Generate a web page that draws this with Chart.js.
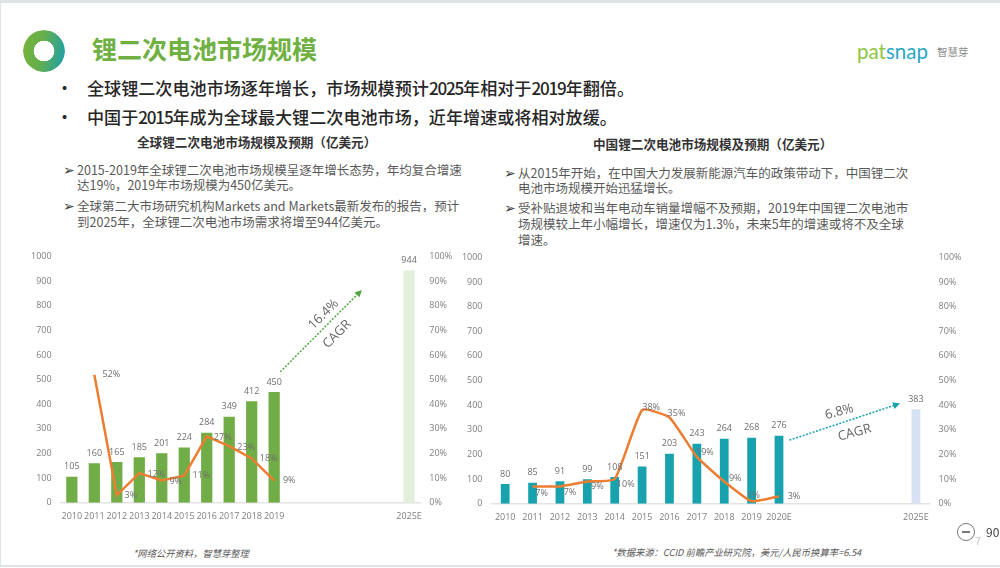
<!DOCTYPE html>
<html lang="zh">
<head>
<meta charset="utf-8">
<title>锂二次电池市场规模</title>
<script src="https://cdn.jsdelivr.net/npm/chart.js@4"></script>
<style>
  html, body { margin: 0; padding: 0; background: #fff; }
  body { width: 1000px; height: 568px; overflow: hidden; position: relative;
         font-family: "Noto Sans CJK SC", "Noto Sans", sans-serif; color: #595959; }
  canvas { position: absolute; }
  .band { position: absolute; background: #dfe3e7; }
  .t { position: absolute; white-space: nowrap; transform: translateY(-50%); line-height: 1; }
  .ring { position: absolute; left: 23px; top: 30px; width: 42px; height: 42px; border-radius: 50%;
          background: linear-gradient(100deg, #78b53a, #64ae4c 45%, #1a9fb0);
          -webkit-mask: radial-gradient(circle, transparent 10px, #000 10.6px); mask: radial-gradient(circle, transparent 10px, #000 10.6px); }
  .title { left: 92px; top: 48px; font-size: 25px; font-weight: 700; color: #71b144; }
  .lead { font-size: 17.1px; font-weight: 500; color: #262626; }
  .lead span { letter-spacing: -1.2px; }
  .sub { font-size: 12.6px; font-weight: 700; color: #333; }
  .body { font-size: 12.5px; color: #595959; }
  .mark { font: 14px "DejaVu Sans", sans-serif; color: #404040; }
  .note { font-size: 9.3px; font-style: italic; color: #595959; }
  .logo { left: 857px; top: 51px; font: 400 20.5px Lato, sans-serif; }
  .logo b { font-weight: 400; color: #8cc63f; }
  .logo i { font-style: normal; color: #2aa7c4; }
  .pageCircle { position: absolute; left: 957px; top: 523px; width: 16px; height: 16px;
                border: 1.5px solid #777; border-radius: 50%; }
  .pageCircle::after { content: ""; position: absolute; left: 4px; top: 7px; width: 8px; height: 1.5px; background: #777; }
</style>
</head>
<body>
<div class="band" style="left:0;top:0;width:1000px;height:3px"></div>
<div class="band" style="left:0;top:0;width:1px;height:566px"></div>
<div class="band" style="left:0;top:565px;width:1000px;height:1.5px"></div>

<div class="ring"></div>
<div class="t title">锂二次电池市场规模</div>
<div class="t logo"><b>pat</b><i>snap</i></div>
<div class="t" style="left:937px;top:52px;font-size:10.5px;color:#8c8c8c">智慧芽</div>

<div class="t lead" style="left:56px;top:88px">•</div>
<div class="t lead" style="left:87px;top:88px">全球锂二次电池市场逐年增长，市场规模预计<span>2025</span>年相对于<span>2019</span>年翻倍。</div>
<div class="t lead" style="left:56px;top:117px">•</div>
<div class="t lead" style="left:87px;top:117px">中国于<span>2015</span>年成为全球最大锂二次电池市场，近年增速或将相对放缓。</div>

<div class="t sub" style="left:137px;top:142px">全球锂二次电池市场规模及预期（亿美元）</div>
<div class="t sub" style="left:593px;top:144px">中国锂二次电池市场规模及预期（亿美元）</div>

<div class="t mark" style="left:63px;top:170px">➢</div>
<div class="t body" style="left:77px;top:170px">2015-2019年全球锂二次电池市场规模呈逐年增长态势，年均复合增速</div>
<div class="t body" style="left:77px;top:185px">达19%，2019年市场规模为450亿美元。</div>
<div class="t mark" style="left:63px;top:206px">➢</div>
<div class="t body" style="left:77px;top:206px">全球第二大市场研究机构Markets and Markets最新发布的报告，预计</div>
<div class="t body" style="left:77px;top:222px">到2025年，全球锂二次电池市场需求将增至944亿美元。</div>

<div class="t mark" style="left:504px;top:173px">➢</div>
<div class="t body" style="left:518px;top:173px">从2015年开始，在中国大力发展新能源汽车的政策带动下，中国锂二次</div>
<div class="t body" style="left:518px;top:188px">电池市场规模开始迅猛增长。</div>
<div class="t mark" style="left:504px;top:208px">➢</div>
<div class="t body" style="left:518px;top:208px">受补贴退坡和当年电动车销量增幅不及预期，2019年中国锂二次电池市</div>
<div class="t body" style="left:518px;top:224px">场规模较上年小幅增长，增速仅为1.3%，未来5年的增速或将不及全球</div>
<div class="t body" style="left:518px;top:240px">增速。</div>

<canvas id="globalChart" width="460" height="300" style="left:0;top:240px"></canvas>
<canvas id="chinaChart" width="540" height="300" style="left:460px;top:240px"></canvas>

<div class="t note" style="left:133px;top:554px">*网络公开资料，智慧芽整理</div>
<div class="t note" style="left:612px;top:553px">*数据来源：CCID 前瞻产业研究院，美元/人民币换算率=6.54</div>

<div class="pageCircle"></div>
<div class="t" style="left:975px;top:540px;font-size:11px;color:#c8c8c8">7</div>
<div class="t" style="left:986px;top:532px;font-size:12px;color:#444">90</div>

<script>
const globalYears = ['2010', '2011', '2012', '2013', '2014', '2015', '2016', '2017', '2018', '2019', '', '', '', '', '', '2025E'];
const globalSize = [105, 160, 165, 185, 201, 224, 284, 349, 412, 450, null, null, null, null, null, 944];
const globalGrowth = [null, 52, 3, 12, 9, 11, 27, 23, 18, 9, null, null, null, null, null, null];

const chinaYears = ['2010', '2011', '2012', '2013', '2014', '2015', '2016', '2017', '2018', '2019', '2020E', '', '', '', '', '2025E'];
const chinaSize = [80, 85, 91, 99, 108, 151, 203, 243, 264, 268, 276, null, null, null, null, 383];
const chinaGrowth = [null, 7, 7, 9, 10, 38, 35, 19, 9, 1, 3, null, null, null, null, null];

const sizeTicks = [0, 100, 200, 300, 400, 500, 600, 700, 800, 900, 1000];
const growthTicks = [0, 10, 20, 30, 40, 50, 60, 70, 80, 90, 100];

const TICK = '#7f7f7f';
const ORANGE = '#ed7d31';

/* nudges for the growth labels, [dx, dy] from the line point */
const globalNudge = [null, [17, 0], [14, 0], [17, 1], [14, 1], [17, 0], [16, 1], [17, 1], [17, 0], [15, 0]];
const chinaNudge = [null, [9, 7], [10, 6], [10, 5], [11, 5], [9, -3], [7, -4], [8, -4], [11, -3], [2, -6], [15, 0]];

/* value labels over the bars and beside the line */
const valueLabels = {
  id: 'valueLabels',
  afterDatasetsDraw(chart, args, opts) {
    const ctx = chart.ctx;
    ctx.save();
    ctx.font = '9px "Open Sans", "Noto Sans", sans-serif';
    ctx.textAlign = 'center';
    ctx.textBaseline = 'middle';

    const bars = chart.getDatasetMeta(1);
    chart.data.datasets[1].data.forEach((v, i) => {
      if (v == null) return;
      ctx.fillStyle = '#6f6f6f';
      ctx.fillText(String(v), bars.data[i].x, bars.data[i].y - 10);
    });

    const line = chart.getDatasetMeta(0);
    chart.data.datasets[0].data.forEach((v, i) => {
      if (v == null) return;
      const n = opts.nudge[i];
      ctx.fillStyle = '#6f6f6f';
      ctx.fillText(v + '%', line.data[i].x + n[0], line.data[i].y + n[1]);
    });
    ctx.restore();
  }
};

/* dotted CAGR arrow, given in axis units */
const cagrArrow = {
  id: 'cagrArrow',
  afterDatasetsDraw(chart, args, opts) {
    const { ctx, scales: { x, y } } = chart;
    const x0 = x.getPixelForValue(opts.from[0]), y0 = y.getPixelForValue(opts.from[1]);
    const x1 = x.getPixelForValue(opts.to[0]), y1 = y.getPixelForValue(opts.to[1]);
    const a = Math.atan2(y1 - y0, x1 - x0);
    ctx.save();
    ctx.strokeStyle = opts.color;
    ctx.fillStyle = opts.color;
    ctx.lineWidth = 1.5;
    ctx.setLineDash([2, 1.5]);
    ctx.beginPath();
    ctx.moveTo(x0, y0);
    ctx.lineTo(x1 - 4 * Math.cos(a), y1 - 4 * Math.sin(a));
    ctx.stroke();
    ctx.setLineDash([]);
    ctx.translate(x1, y1);
    ctx.rotate(a);
    ctx.beginPath();
    ctx.moveTo(0, 0);
    ctx.lineTo(-7, -3.5);
    ctx.lineTo(-7, 3.5);
    ctx.closePath();
    ctx.fill();
    ctx.restore();

    opts.notes.forEach(n => {
      ctx.save();
      ctx.translate(x.getPixelForValue(n.at[0]), y.getPixelForValue(n.at[1]));
      ctx.rotate(opts.angle * Math.PI / 180);
      ctx.font = '13px "Open Sans", "Noto Sans", sans-serif';
      ctx.fillStyle = '#666';
      ctx.textAlign = 'center';
      ctx.textBaseline = 'middle';
      ctx.fillText(n.text, 0, 0);
      ctx.restore();
    });
  }
};

function makeChart(id, cfg) {
  const canvas = document.getElementById(id);
  const tickFont = { family: '"Open Sans", "Noto Sans", sans-serif', size: 9 };
  return new Chart(canvas.getContext('2d'), {
    type: 'bar',
    data: {
      labels: cfg.labels,
      datasets: [
        {
          type: 'line',
          data: cfg.growth,
          yAxisID: 'y1',
          borderColor: ORANGE,
          borderWidth: 2.5,
          pointRadius: 0,
          tension: cfg.tension,
          order: 1
        },
        {
          type: 'bar',
          data: cfg.size,
          yAxisID: 'y',
          backgroundColor: cfg.barColors,
          barPercentage: cfg.barPercent,
          categoryPercentage: 1,
          order: 2
        }
      ]
    },
    options: {
      responsive: false,
      animation: false,
      layout: { padding: { top: cfg.top } },
      plugins: {
        legend: { display: false },
        tooltip: { enabled: false },
        valueLabels: { nudge: cfg.nudge },
        cagrArrow: cfg.arrow
      },
      scales: {
        x: {
          grid: { display: false, drawTicks: false },
          border: { color: '#e3e3e3', width: 1.5 },
          ticks: { color: TICK, font: tickFont, autoSkip: false, maxRotation: 0, padding: 8 },
          afterFit(s) { s.height = cfg.axisBottom; }
        },
        y: {
          position: 'left',
          min: 0,
          max: 1000,
          grid: { display: false, drawTicks: false },
          border: { display: false },
          afterBuildTicks(s) { s.ticks = sizeTicks.map(v => ({ value: v })); },
          ticks: { color: TICK, font: tickFont, padding: 9, callback: v => String(v) },
          afterFit(s) { s.width = cfg.axisLeft; }
        },
        y1: {
          position: 'right',
          min: 0,
          max: 100,
          grid: { display: false, drawTicks: false },
          border: { display: false },
          afterBuildTicks(s) { s.ticks = growthTicks.map(v => ({ value: v })); },
          ticks: { color: TICK, font: tickFont, padding: 9, callback: v => v + '%' },
          afterFit(s) { s.width = cfg.axisRight; }
        }
      }
    },
    plugins: [valueLabels, cagrArrow]
  });
}

/* ================= GLOBAL ================= */
makeChart('globalChart', {
  labels: globalYears,
  size: globalSize,
  growth: globalGrowth,
  nudge: globalNudge,
  tension: 0,
  barPercent: 0.5,
  barColors: globalSize.map((v, i) => i === 15 ? '#e2efda' : '#70ad47'),
  top: 16.7,
  axisLeft: 60.6,
  axisRight: 39.7,
  axisBottom: 37.3,
  arrow: {
    from: [9.27, 532], to: [12.9, 865], color: '#4fa83d', angle: -45,
    notes: [{ text: '16.4%', at: [11.2, 765] }, { text: 'CAGR', at: [11.8, 685] }]
  }
});

/* ================= CHINA ================= */
makeChart('chinaChart', {
  labels: chinaYears,
  size: chinaSize,
  growth: chinaGrowth,
  nudge: chinaNudge,
  tension: 0.15,
  barPercent: 0.32,
  barColors: chinaSize.map((v, i) => i === 15 ? '#d6e2f2' : '#17a2ae'),
  top: 17.3,
  axisLeft: 31.5,
  axisRight: 70.4,
  axisBottom: 36.3,
  arrow: {
    from: [10.38, 258], to: [14.42, 407], color: '#17a2ae', angle: -15,
    notes: [{ text: '6.8%', at: [12.2, 373] }, { text: 'CAGR', at: [12.76, 288] }]
  }
});
</script>
</body>
</html>
